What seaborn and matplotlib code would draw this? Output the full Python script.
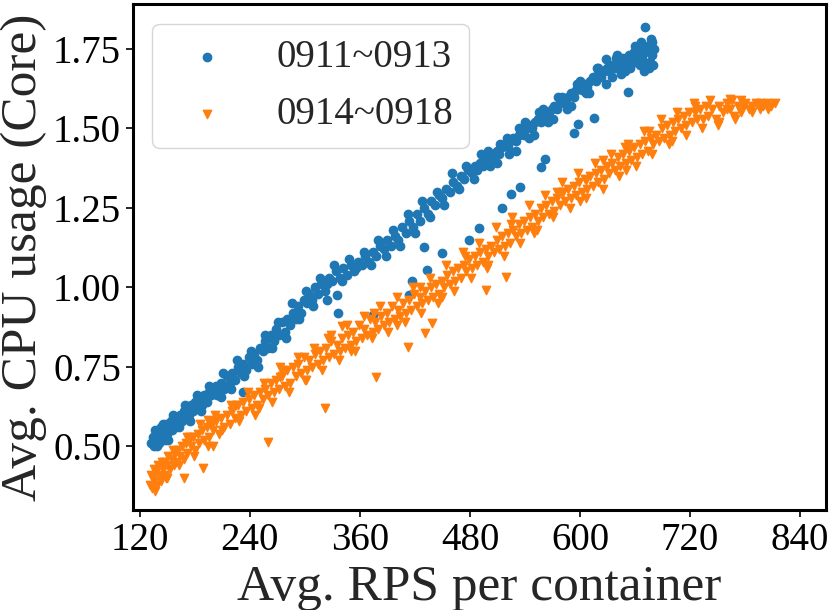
import pandas as pd
import matplotlib
matplotlib.use("Agg")
import matplotlib.pyplot as plt
import seaborn as sns

# Period labels
period_a = "0911~0913"
period_b = "0914~0918"

# Avg. RPS per container / Avg. CPU usage for 0911~0913
blue_x = [
    132, 134, 135, 137, 138, 140, 141, 143, 144, 146,
    147, 149, 150, 152, 154, 155, 157, 159, 160, 162,
    164, 166, 168, 170, 172, 174, 176, 178, 180, 183,
    185, 188, 190, 193, 195, 198, 200, 203, 206, 209,
    212, 215, 218, 221, 224, 227, 230, 233, 236, 239,
    242, 245, 248, 251, 254, 257, 260, 263, 266, 269,
    272, 275, 278, 281, 284, 287, 290, 293, 296, 299,
    302, 305, 308, 311, 314, 318, 322, 326, 330, 334,
    338, 342, 346, 350, 354, 358, 362, 366, 370, 374,
    378, 382, 386, 390, 394, 398, 402, 406, 410, 414,
    418, 422, 426, 430, 434, 438, 442, 446, 450, 454,
    458, 462, 466, 470, 474, 478, 482, 485, 488, 491,
    494, 497, 500, 503, 506, 509, 512, 515, 518, 521,
    524, 527, 530, 533, 536, 539, 542, 545, 548, 551,
    554, 557, 560, 563, 566, 569, 572, 575, 578, 581,
    584, 587, 590, 593, 596, 599, 602, 605, 608, 611,
    614, 617, 620, 623, 626, 629, 632, 635, 638, 641,
    644, 647, 650, 653, 656, 659, 662, 665, 668, 671,
    674, 676, 678, 680, 681, 677, 675, 671,
    500, 520, 540, 560, 580, 600, 620, 640, 660, 665,
    670, 655, 645, 635, 610, 590, 570, 550, 530, 510,
    139, 145, 151, 156, 163, 169, 175, 182, 187, 196,
    204, 211, 219, 226, 234, 241, 249, 256, 264, 271,
    279, 286, 294, 301, 309, 316, 324, 332, 340, 348,
    356, 364, 372, 380, 388, 396, 404, 412, 420, 428,
    436, 444, 452, 460, 468, 476, 484, 492, 502, 513,
    523, 534, 544, 555, 565, 576, 586, 597, 607, 618,
    628, 639, 649, 660, 666, 672, 679,
    652, 615, 598, 593, 562, 557, 535, 525, 515, 490,
    479, 449, 430, 433, 417, 414, 374, 335, 324, 336,
    265, 233, 209, 628,
]
blue_y = [
    0.51, 0.53, 0.50, 0.55, 0.52, 0.54, 0.51, 0.56, 0.53, 0.55,
    0.52, 0.57, 0.54, 0.56, 0.58, 0.55, 0.57, 0.59, 0.56, 0.58,
    0.60, 0.58, 0.61, 0.59, 0.62, 0.60, 0.63, 0.61, 0.64, 0.62,
    0.65, 0.63, 0.66, 0.64, 0.67, 0.66, 0.68, 0.69, 0.67, 0.70,
    0.68, 0.72, 0.70, 0.73, 0.71, 0.75, 0.73, 0.76, 0.74, 0.78,
    0.76, 0.79, 0.77, 0.81, 0.80, 0.83, 0.81, 0.85, 0.83, 0.87,
    0.85, 0.89, 0.86, 0.90, 0.88, 0.92, 0.90, 0.94, 0.92, 0.96,
    0.95, 0.98, 0.96, 1.00, 0.98, 1.01, 0.99, 1.03, 1.02, 1.05,
    1.03, 1.06, 1.04, 1.07, 1.05, 1.08, 1.07, 1.10, 1.08, 1.11,
    1.10, 1.13, 1.12, 1.15, 1.13, 1.16, 1.15, 1.19, 1.17, 1.21,
    1.19, 1.23, 1.21, 1.25, 1.23, 1.27, 1.26, 1.29, 1.28, 1.31,
    1.30, 1.33, 1.32, 1.35, 1.34, 1.37, 1.36, 1.38, 1.37, 1.39,
    1.38, 1.40, 1.41, 1.40, 1.42, 1.43, 1.42, 1.44, 1.45, 1.44,
    1.46, 1.47, 1.46, 1.48, 1.49, 1.48, 1.50, 1.51, 1.50, 1.52,
    1.53, 1.52, 1.54, 1.55, 1.54, 1.56, 1.57, 1.56, 1.58, 1.59,
    1.58, 1.60, 1.61, 1.60, 1.62, 1.63, 1.62, 1.64, 1.63, 1.65,
    1.66, 1.65, 1.67, 1.66, 1.68, 1.69, 1.68, 1.70, 1.69, 1.71,
    1.70, 1.72, 1.71, 1.73, 1.72, 1.74, 1.73, 1.75, 1.72, 1.74,
    1.76, 1.71, 1.73, 1.70, 1.75, 1.78, 1.69, 1.82,
    1.43, 1.47, 1.52, 1.56, 1.60, 1.65, 1.69, 1.73, 1.76, 1.70,
    1.68, 1.69, 1.67, 1.66, 1.61, 1.57, 1.53, 1.48, 1.43, 1.39,
    0.50, 0.57, 0.52, 0.60, 0.56, 0.63, 0.58, 0.66, 0.61, 0.69,
    0.66, 0.73, 0.68, 0.77, 0.72, 0.80, 0.75, 0.85, 0.81, 0.89,
    0.84, 0.95, 0.90, 0.99, 0.94, 1.03, 1.01, 1.07, 1.02, 1.09,
    1.06, 1.11, 1.07, 1.15, 1.10, 1.18, 1.13, 1.23, 1.17, 1.27,
    1.22, 1.30, 1.26, 1.36, 1.31, 1.38, 1.34, 1.42, 1.38, 1.45,
    1.42, 1.50, 1.47, 1.55, 1.52, 1.60, 1.56, 1.64, 1.61, 1.69,
    1.64, 1.72, 1.68, 1.71, 1.77, 1.70, 1.77,
    1.615, 1.531, 1.515, 1.484, 1.402, 1.377, 1.314, 1.295, 1.248, 1.186,
    1.148, 1.107, 1.126, 1.054, 1.020, 0.976, 0.913, 0.976, 0.960, 0.919,
    0.841, 0.672, 0.656, 1.719,
]

# Avg. RPS per container / Avg. CPU usage for 0914~0918
orange_x = [
    131, 132, 133, 134, 135, 136, 138, 139, 140, 142,
    143, 145, 146, 148, 150, 151, 153, 155, 157, 158,
    160, 162, 164, 166, 168, 170, 172, 174, 176, 178,
    180, 183, 185, 188, 190, 193, 195, 198, 200, 203,
    206, 209, 212, 215, 218, 221, 224, 227, 230, 233,
    236, 239, 242, 245, 248, 251, 254, 257, 260, 263,
    266, 269, 272, 275, 278, 281, 284, 287, 290, 293,
    296, 299, 302, 305, 308, 311, 314, 317, 320, 323,
    326, 329, 332, 335, 338, 341, 344, 347, 350, 353,
    356, 359, 362, 365, 368, 371, 374, 377, 380, 383,
    386, 389, 392, 395, 398, 401, 404, 407, 410, 413,
    416, 419, 422, 425, 428, 431, 434, 437, 440, 443,
    446, 449, 452, 455, 458, 461, 464, 467, 470, 473,
    476, 479, 482, 485, 488, 491, 494, 497, 500, 503,
    506, 509, 512, 515, 518, 521, 524, 527, 530, 533,
    536, 539, 542, 545, 548, 551, 554, 557, 560, 563,
    566, 569, 572, 575, 578, 581, 584, 587, 590, 593,
    596, 599, 602, 605, 608, 611, 614, 617, 620, 623,
    626, 629, 632, 635, 638, 641, 644, 647, 650, 653,
    656, 659, 662, 665, 668, 671, 674, 677, 680, 683,
    686, 689, 692, 695, 698, 701, 704, 707, 710, 713,
    716, 719, 722, 725, 728, 731, 734, 737, 740, 744,
    748, 752, 756, 760, 764, 768, 772, 776, 780, 784,
    788, 792, 796, 800, 804, 808, 813,
    150, 175, 200, 225, 250, 275, 300, 325, 350, 375,
    400, 425, 450, 475, 500, 525, 550, 575, 600, 625,
    650, 675, 700, 725, 750, 775,
    137, 144, 149, 156, 163, 171, 179, 186, 194, 202,
    210, 219, 228, 238, 246, 255, 264, 273, 283, 292,
    301, 310, 319, 328, 337, 346, 355, 364, 373, 382,
    391, 400, 409, 418, 427, 436, 445, 454, 463, 472,
    481, 490, 499, 508, 517, 526, 535, 544, 553, 562,
    571, 580, 589, 598, 607, 616, 625, 634, 643, 652,
    661, 670, 679, 688, 697, 706, 715, 724, 733, 742,
    751, 760, 769, 778, 787, 796, 805,
    260, 412, 378, 322, 189, 168, 194, 200, 431, 341,
    652, 764, 273, 497, 519, 439, 649, 580, 606, 766,
]
orange_y = [
    0.38, 0.41, 0.37, 0.40, 0.43, 0.39, 0.42, 0.38, 0.44, 0.41,
    0.39, 0.43, 0.45, 0.41, 0.44, 0.47, 0.43, 0.46, 0.44, 0.48,
    0.45, 0.49, 0.47, 0.50, 0.46, 0.51, 0.48, 0.52, 0.50, 0.53,
    0.49, 0.54, 0.51, 0.55, 0.52, 0.56, 0.53, 0.57, 0.55, 0.58,
    0.54, 0.59, 0.56, 0.60, 0.57, 0.61, 0.59, 0.63, 0.60, 0.64,
    0.61, 0.65, 0.62, 0.66, 0.63, 0.67, 0.65, 0.68, 0.66, 0.70,
    0.67, 0.71, 0.68, 0.72, 0.69, 0.74, 0.70, 0.75, 0.72, 0.76,
    0.73, 0.78, 0.74, 0.77, 0.75, 0.79, 0.76, 0.80, 0.77, 0.81,
    0.78, 0.83, 0.79, 0.82, 0.80, 0.84, 0.81, 0.85, 0.82, 0.86,
    0.83, 0.88, 0.84, 0.87, 0.85, 0.90, 0.86, 0.89, 0.87, 0.91,
    0.88, 0.92, 0.89, 0.94, 0.90, 0.93, 0.91, 0.95, 0.92, 0.96,
    0.93, 0.98, 0.94, 0.97, 0.95, 0.99, 0.96, 1.00, 0.97, 1.01,
    0.98, 1.02, 1.00, 1.04, 1.01, 1.05, 1.02, 1.06, 1.03, 1.07,
    1.05, 1.09, 1.06, 1.10, 1.07, 1.11, 1.08, 1.12, 1.10, 1.13,
    1.11, 1.15, 1.12, 1.16, 1.13, 1.17, 1.14, 1.18, 1.16, 1.20,
    1.17, 1.21, 1.18, 1.22, 1.19, 1.23, 1.21, 1.25, 1.22, 1.26,
    1.23, 1.27, 1.24, 1.28, 1.26, 1.30, 1.27, 1.31, 1.28, 1.32,
    1.29, 1.33, 1.30, 1.34, 1.31, 1.35, 1.32, 1.36, 1.33, 1.37,
    1.34, 1.38, 1.36, 1.39, 1.37, 1.41, 1.38, 1.42, 1.39, 1.43,
    1.40, 1.44, 1.41, 1.45, 1.42, 1.46, 1.43, 1.47, 1.45, 1.48,
    1.46, 1.50, 1.47, 1.51, 1.48, 1.52, 1.49, 1.53, 1.50, 1.54,
    1.51, 1.55, 1.52, 1.55, 1.53, 1.56, 1.53, 1.57, 1.54, 1.56,
    1.53, 1.57, 1.55, 1.58, 1.56, 1.54, 1.57, 1.55, 1.58, 1.56,
    1.57, 1.58, 1.56, 1.57, 1.58, 1.57, 1.58,
    0.40, 0.53, 0.50, 0.63, 0.62, 0.74, 0.71, 0.84, 0.80, 0.92,
    0.88, 1.00, 0.97, 1.10, 1.07, 1.20, 1.17, 1.30, 1.27, 1.40,
    1.37, 1.49, 1.46, 1.57, 1.51, 1.59,
    0.36, 0.45, 0.40, 0.49, 0.44, 0.53, 0.47, 0.57, 0.50, 0.60,
    0.55, 0.63, 0.58, 0.67, 0.60, 0.70, 0.64, 0.75, 0.67, 0.78,
    0.71, 0.81, 0.74, 0.85, 0.77, 0.88, 0.80, 0.91, 0.84, 0.94,
    0.86, 0.97, 0.89, 1.00, 0.92, 1.03, 0.95, 1.07, 0.99, 1.11,
    1.03, 1.14, 1.06, 1.19, 1.10, 1.22, 1.14, 1.26, 1.18, 1.29,
    1.22, 1.33, 1.25, 1.36, 1.28, 1.39, 1.31, 1.42, 1.35, 1.45,
    1.38, 1.49, 1.42, 1.53, 1.45, 1.55, 1.48, 1.58, 1.50, 1.59,
    1.52, 1.56, 1.53, 1.57, 1.55, 1.58, 1.56,
    0.515, 0.813, 0.719, 0.621, 0.433, 0.402, 0.584, 0.578, 0.857, 0.879,
    1.440, 1.593, 0.719, 0.991, 1.032, 0.888, 1.440, 1.299, 1.336, 1.590,
]

x_ticks = [120, 240, 360, 480, 600, 720, 840]
y_ticks = [0.50, 0.75, 1.00, 1.25, 1.50, 1.75]

sns.set_theme(style="ticks")
plt.rcParams["font.family"] = ["Liberation Serif", "DejaVu Serif"]

fig, ax = plt.subplots(figsize=(8.3, 6.1), dpi=100)
fig.subplots_adjust(left=0.160, right=0.995, top=0.993, bottom=0.164)

# matplotlib-like markers: edge drawn in the face colour
sns.scatterplot(x=blue_x, y=blue_y, color="#1f77b4", marker="o", s=36,
                edgecolor="#1f77b4", linewidth=1.0, label=period_a, ax=ax)
sns.scatterplot(x=orange_x, y=orange_y, color="#ff7f0e", marker="v", s=36,
                edgecolor="#ff7f0e", linewidth=1.0, label=period_b, ax=ax)

ax.set_xlim(112.4, 868)
ax.set_ylim(0.30, 1.89)
ax.set_xticks(x_ticks)
ax.set_yticks(y_ticks)
ax.set_yticklabels([f"{v:.2f}" for v in y_ticks])

ax.set_xlabel("Avg. RPS per container", fontsize=37)
ax.set_ylabel("Avg. CPU usage (Core)", fontsize=37)
ax.tick_params(axis="both", labelsize=28, length=5, width=1.2, color="black", labelcolor="black")

for spine in ax.spines.values():
    spine.set_visible(True)
    spine.set_color("black")
    spine.set_linewidth(2.2)

ax.legend(loc="upper left", fontsize=28)

plt.savefig("out.png", dpi=100)
